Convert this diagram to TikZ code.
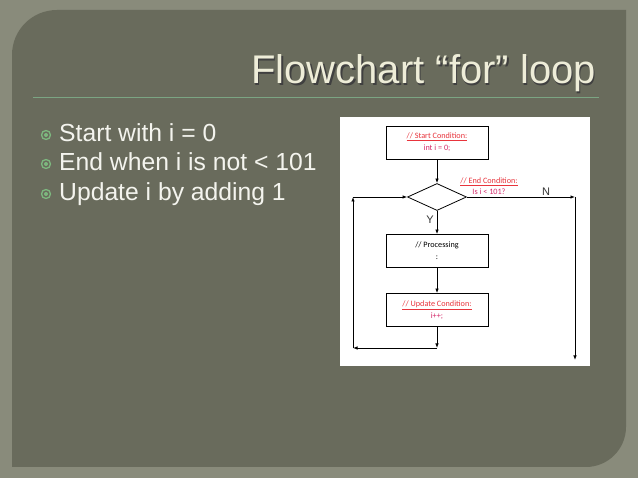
\documentclass[tikz,border=0pt]{standalone}
\usepackage{fontspec}
\setmainfont{Liberation Sans}
\newfontfamily\chartfont{Carlito}
\usetikzlibrary{arrows.meta,shapes.geometric,positioning,calc}

\definecolor{slideouter}{HTML}{898B7B}
\definecolor{slideinner}{HTML}{696B5C}
\definecolor{titletext}{HTML}{EEEDD8}
\definecolor{bullettext}{HTML}{F4F4EE}
\definecolor{bulletgreen}{HTML}{7DB87F}
\definecolor{ruleline}{HTML}{7BA583}
\definecolor{condred}{HTML}{E8343C}
\definecolor{codepink}{HTML}{D42A6A}

\begin{document}
\begin{tikzpicture}[x=1pt, y=-1pt,
    box/.style={draw, line width=0.8pt, minimum width=102pt, minimum height=33pt, inner sep=0pt, align=center, font=\chartfont\fontsize{8.2}{12}\selectfont},
    decision/.style={draw, line width=0.8pt, diamond, minimum width=59pt, minimum height=27pt, inner sep=0pt},
    flow/.style={-{Latex[length=4.5pt,width=3.5pt]}, line width=0.8pt},
    bulletline/.style={anchor=base west, text=bullettext, font=\fontsize{24.7}{28}\selectfont, inner sep=0pt},
    titlefont/.style={anchor=base east, font=\fontsize{40}{44}\selectfont, inner sep=0pt},
    ]
    \useasboundingbox (0,0) rectangle (638,478);

    % Slide background
    \fill[slideouter] (0,0) rectangle (638,478);
    \fill[slideinner] (12,467) -- (12,55) .. controls (12,30) and (32,10) .. (57,10) -- (626,10)
        -- (626,427) .. controls (626,449) and (608,467) .. (586,467) -- cycle;

    % Title
    \node[titlefont, text=black!75] (titleshadow) at (597.5,85.5) {Flowchart “for” loop};
    \node[titlefont, text=titletext] (title) at (596,84) {Flowchart “for” loop};
    \draw[ruleline, line width=1pt] (33,98) -- (599,98);

    % Bullets
    \foreach \y/\txt [count=\i] in {142/Start with i = 0, 171/End when i is not < 101, 201/Update i by adding 1} {
        \draw[bulletgreen, line width=1.3pt] (46,{\y-7}) circle (4.5pt);
        \fill[bulletgreen] (46,{\y-7}) circle (2pt);
        \node[bulletline] (bullet\i) at (59,\y) {\txt};
    }

    % Flowchart picture
    \fill[white] (340,117) rectangle (590,366);
    \node[box] (start) at (437,142.5) {\textcolor{condred}{\underline{// Start Condition:}}\\\textcolor{codepink}{int i = 0;}};
    \node[decision] (cond) at (437,197) {};
    \node[box] (proc) at (437,251) {// Processing\\:};
    \node[box] (upd) at (437,310) {\textcolor{condred}{\underline{// Update Condition:}}\\\textcolor{codepink}{i++;}};

    % Labels
    \node[align=center, font=\chartfont\fontsize{8.2}{11}\selectfont] (condlbl) at (489,186.5) {\textcolor{condred}{\underline{// End Condition:}}\\\textcolor{codepink}{Is i < 101?}};
    \node[font=\fontsize{11}{12}\selectfont, text=black!80] (ylbl) at (430,220) {Y};
    \node[font=\fontsize{11}{12}\selectfont, text=black!80] (nlbl) at (546,192) {N};

    % Loop corners
    \coordinate (join) at (437,348);
    \coordinate (backbl) at (353,348);
    \coordinate (backtl) at (353,197);
    \coordinate (exitr) at (575,197);
    \coordinate (exitb) at (575,360);

    \draw[flow] (start) -- (cond);
    \draw[flow] (cond) -- (proc);
    \draw[flow] (proc) -- (upd);
    \draw[flow] (upd) -- (join);
    \draw[flow] (join) -- (backbl);
    \draw[flow] (backbl) -- (backtl);
    \draw[flow] (backtl) -- (cond);
    \draw[flow] (cond) -- (exitr);
    \draw[flow] (exitr) -- (exitb);
\end{tikzpicture}
\end{document}
